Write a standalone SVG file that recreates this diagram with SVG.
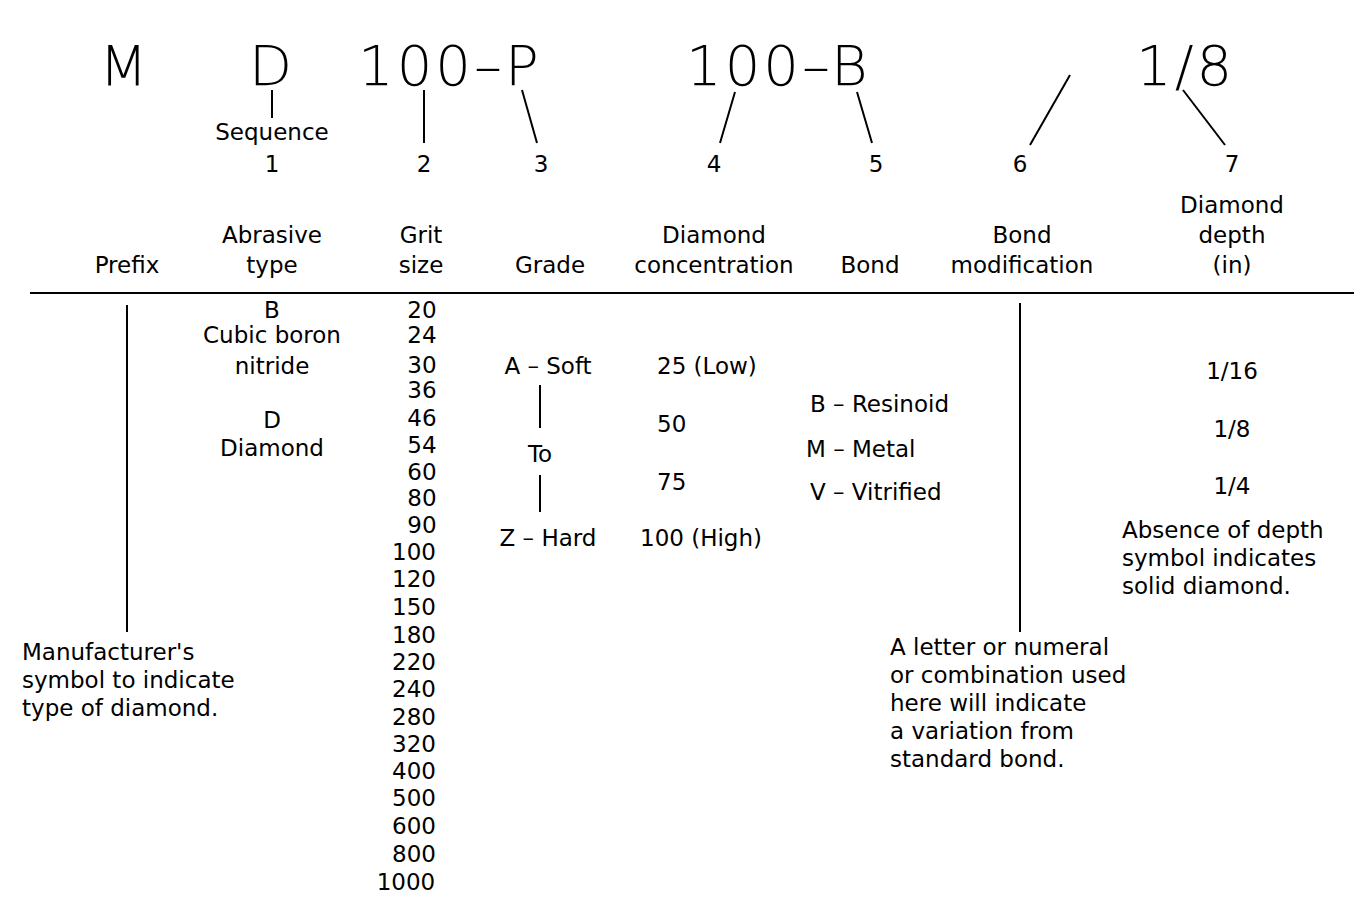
<svg xmlns="http://www.w3.org/2000/svg" width="1354" height="904" viewBox="0 0 1354 904">
<style>
text{font-family:"DejaVu Sans","Liberation Sans",sans-serif;fill:#000;font-size:23px}
.big{font-size:56px;font-weight:300;letter-spacing:3px}
.m{text-anchor:middle}
line{stroke:#000;stroke-width:2}
</style>
<rect width="1354" height="904" fill="#fff"/>
<text class="big m" x="125" y="85">M</text>
<text class="big m" x="272" y="85">D</text>
<text class="big" x="358" y="85">100–P</text>
<text class="big" x="686" y="85">100–B</text>
<text class="big" x="1136" y="85">1/8</text>
<g>
<line x1="272" y1="90" x2="272" y2="118"/>
<line x1="424" y1="90" x2="424" y2="143"/>
<line x1="522" y1="90" x2="537" y2="143"/>
<line x1="735" y1="92" x2="720" y2="143"/>
<line x1="857" y1="92" x2="872" y2="143"/>
<line x1="1070" y1="75" x2="1030" y2="145"/>
<line x1="1183" y1="90" x2="1225" y2="145"/>
<line x1="30" y1="293" x2="1354" y2="293"/>
<line x1="127" y1="305" x2="127" y2="632"/>
<line x1="1020" y1="303" x2="1020" y2="632"/>
<line x1="540" y1="385" x2="540" y2="428"/>
<line x1="540" y1="475" x2="540" y2="512"/>
</g>
<text class="m" x="272" y="140">Sequence</text>
<text class="m" x="272" y="172">1</text>
<text class="m" x="424" y="172">2</text>
<text class="m" x="541" y="172">3</text>
<text class="m" x="714" y="172">4</text>
<text class="m" x="876" y="172">5</text>
<text class="m" x="1020" y="172">6</text>
<text class="m" x="1232" y="172">7</text>
<text class="m" x="127" y="273">Prefix</text>
<text class="m" x="272" y="243">Abrasive</text><text class="m" x="272" y="273">type</text>
<text class="m" x="421" y="243">Grit</text><text class="m" x="421" y="273">size</text>
<text class="m" x="550" y="273">Grade</text>
<text class="m" x="714" y="243">Diamond</text><text class="m" x="714" y="273">concentration</text>
<text class="m" x="870" y="273">Bond</text>
<text class="m" x="1022" y="243">Bond</text><text class="m" x="1022" y="273">modification</text>
<text class="m" x="1232" y="213">Diamond</text><text class="m" x="1232" y="243">depth</text><text class="m" x="1232" y="273">(in)</text>
<text x="22" y="660">Manufacturer's</text>
<text x="22" y="688">symbol to indicate</text>
<text x="22" y="716">type of diamond.</text>
<text class="m" x="272" y="318">B</text>
<text class="m" x="272" y="343">Cubic boron</text>
<text class="m" x="272" y="374">nitride</text>
<text class="m" x="272" y="428">D</text>
<text class="m" x="272" y="456">Diamond</text>
<g class="grit">
<text class="m" x="422" y="318">20</text>
<text class="m" x="422" y="343">24</text>
<text class="m" x="422" y="373">30</text>
<text class="m" x="422" y="398">36</text>
<text class="m" x="422" y="426">46</text>
<text class="m" x="422" y="453">54</text>
<text class="m" x="422" y="480">60</text>
<text class="m" x="422" y="506">80</text>
<text class="m" x="422" y="533">90</text>
<text class="m" x="414" y="560">100</text>
<text class="m" x="414" y="587">120</text>
<text class="m" x="414" y="615">150</text>
<text class="m" x="414" y="643">180</text>
<text class="m" x="414" y="670">220</text>
<text class="m" x="414" y="697">240</text>
<text class="m" x="414" y="725">280</text>
<text class="m" x="414" y="752">320</text>
<text class="m" x="414" y="779">400</text>
<text class="m" x="414" y="806">500</text>
<text class="m" x="414" y="834">600</text>
<text class="m" x="414" y="862">800</text>
<text class="m" x="406" y="890">1000</text>
</g>
<text class="m" x="548" y="374">A – Soft</text>
<text class="m" x="540" y="462">To</text>
<text class="m" x="548" y="546">Z – Hard</text>
<text x="657" y="374">25 (Low)</text>
<text x="657" y="432">50</text>
<text x="657" y="490">75</text>
<text x="640" y="546">100 (High)</text>
<text x="810" y="412">B – Resinoid</text>
<text x="806" y="457">M – Metal</text>
<text x="810" y="500">V – Vitrified</text>
<text x="890" y="655">A letter or numeral</text>
<text x="890" y="683">or combination used</text>
<text x="890" y="711">here will indicate</text>
<text x="890" y="739">a variation from</text>
<text x="890" y="767">standard bond.</text>
<text class="m" x="1232" y="379">1/16</text>
<text class="m" x="1232" y="437">1/8</text>
<text class="m" x="1232" y="494">1/4</text>
<text x="1122" y="538">Absence of depth</text>
<text x="1122" y="566">symbol indicates</text>
<text x="1122" y="594">solid diamond.</text>
</svg>
